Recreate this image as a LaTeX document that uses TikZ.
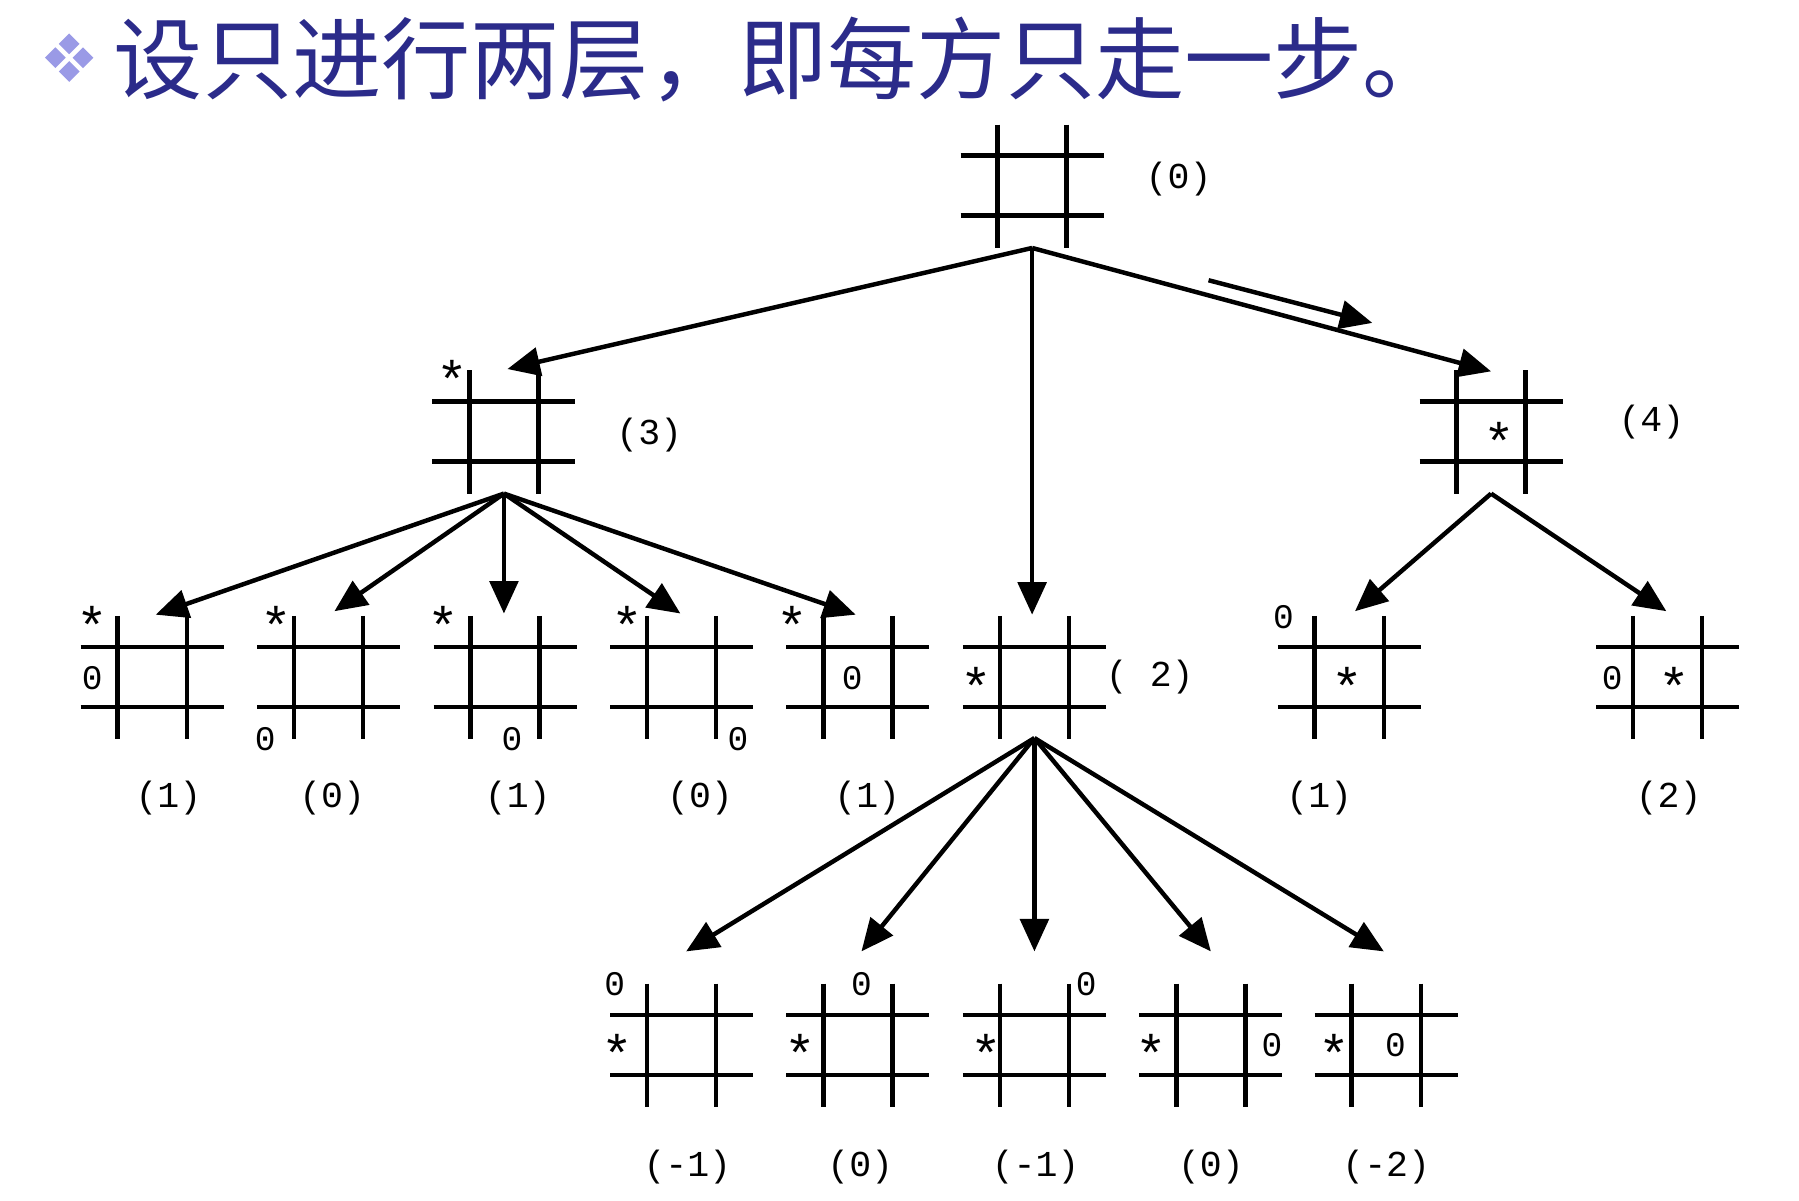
\documentclass[tikz,border=0pt]{standalone}
\usepackage{fontspec}
\newfontfamily\cjk{Noto Sans CJK SC}
\newfontfamily\mono{Liberation Mono}
\usetikzlibrary{arrows.meta}
\definecolor{ttl}{HTML}{2B2B8A}
\definecolor{lav}{HTML}{9A9AE6}
\tikzset{grid line/.style={line width=1.1pt,black},
 arr/.style={line width=1.1pt,-{Triangle[length=8pt,width=7pt]}},
 mk/.style={font=\mono\fontsize{8.5}{9}\selectfont,inner sep=0pt},
 st/.style={font=\mono\fontsize{13}{13}\selectfont,inner sep=0pt,yshift=-2pt},
 lbl/.style={font=\mono\fontsize{9}{10}\selectfont,inner sep=0pt}}
\newcommand{\myboard}[3]{%
 \draw[grid line] (#2-30,#3-53)--(#2-30,#3+54) (#2+30,#3-53)--(#2+30,#3+54)
  (#2-62,#3-26)--(#2+62,#3-26) (#2-62,#3+26)--(#2+62,#3+26);
 \coordinate (#1) at (#2,#3);}
\begin{document}
\begin{tikzpicture}[x=0.01cm,y=-0.01cm]
\useasboundingbox[fill=white] (0,0) rectangle (1560,1041);
% title
\foreach \dx/\dy in {0/-12,0/12,-12/0,12/0}
 \fill[lav] (60+\dx,50+\dy-9) -- ++(9,9)--++(-9,9)--++(-9,-9)--cycle;
\node[anchor=west,text=ttl,font=\cjk\fontsize{22}{24}\selectfont,inner sep=0pt] (title) at (98,52) {设只进行两层，即每方只走一步。};
% boards
\myboard{r}{895}{161}
\myboard{a}{437}{374}
\myboard{b}{1293}{374}
\myboard{a1}{132}{587}\myboard{a2}{285}{587}\myboard{a3}{438}{587}
\myboard{a4}{591}{587}\myboard{a5}{744}{587}\myboard{m}{897}{587}
\myboard{b1}{1170}{587}\myboard{b2}{1446}{587}
\myboard{m1}{591}{906}\myboard{m2}{744}{906}\myboard{m3}{897}{906}
\myboard{m4}{1050}{906}\myboard{m5}{1202}{906}
% marks
\node[st] (s0) at (392,322) {*};
\node[st] (s1) at (1300,376) {*};
\node[st] (n1) at (80,535) {*};\node[mk] (n2) at (80,588) {0};
\node[st] (n3) at (240,535) {*};\node[mk] (n4) at (230,641) {0};
\node[st] (n5) at (384,535) {*};\node[mk] (n6) at (444,641) {0};
\node[st] (n7) at (544,535) {*};\node[mk] (n8) at (640,641) {0};
\node[st] (n9) at (687,535) {*};\node[mk] (n10) at (739,588) {0};
\node[st] (n11) at (847,588) {*};
\node[mk] (n12) at (1113,535) {0};\node[st] (n13) at (1168,588) {*};
\node[mk] (n14) at (1398,588) {0};\node[st] (n15) at (1452,588) {*};
\node[mk] (p1) at (533,853) {0};\node[st] (p2) at (535,906) {*};
\node[mk] (p3) at (747,853) {0};\node[st] (p4) at (694,906) {*};
\node[mk] (p5) at (942,853) {0};\node[st] (p6) at (855,906) {*};
\node[st] (p7) at (998,906) {*};\node[mk] (p8) at (1103,906) {0};
\node[st] (p9) at (1157,906) {*};\node[mk] (p10) at (1210,906) {0};
% labels
\node[lbl] (l0) at (1022,155) {(0)};
\node[lbl] (l3) at (563,377) {(3)};
\node[lbl] (l4) at (1432,366) {(4)};
\node[lbl] (l2) at (997,587) {( 2)};
\foreach \x/\t [count=\i] in {146/(1),288/(0),449/(1),607/(0),752/(1),1144/(1),1447/(2)}
 \node[lbl] (q\i) at (\x,692) {\t};
\foreach \x/\t [count=\i] in {596/(-1),746/(0),898/(-1),1050/(0),1202/(-2)}
 \node[lbl] (u\i) at (\x,1012) {\t};
% connectors
\coordinate (rb) at (895,215);
\coordinate (ab) at (437,428);
\coordinate (bb) at (1293,428);
\coordinate (mb) at (897,640);
\draw[arr] (rb) -- (440,320);
\draw[arr] (rb) -- (895,533);
\draw[arr] (rb) -- (1293,322);
\draw[arr] (1048,243) -- (1190,280);
\foreach \x/\y in {135/533,290/530,437/532,590/532,742/533}
 \draw[arr] (ab) -- (\x,\y);
\draw[arr] (bb) -- (1175,530);
\draw[arr] (bb) -- (1445,530);
\foreach \x in {595,747,897,1050,1200}
 \draw[arr] (mb) -- (\x,825);
\end{tikzpicture}
\end{document}
